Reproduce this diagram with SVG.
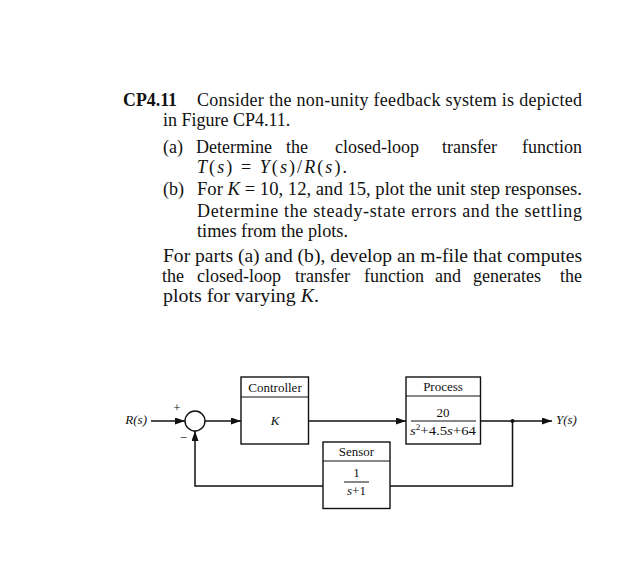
<svg xmlns="http://www.w3.org/2000/svg" width="638" height="561" viewBox="0 0 638 561">
<style>
.t{font-family:"Liberation Serif","Times New Roman",serif;font-size:18px;fill:#111}
.b{font-weight:bold}
.i{font-style:italic}
.d{font-family:"Liberation Serif","Times New Roman",serif;font-size:13px;fill:#111}
.box{fill:#fff;stroke:#111;stroke-width:1.4}
.ln{fill:none;stroke:#111;stroke-width:1.5}
.fr{stroke:#111;stroke-width:1}
</style>
<defs>
<marker id="ah" markerUnits="userSpaceOnUse" markerWidth="10" markerHeight="7" refX="10" refY="3.5" orient="auto">
<path d="M0,0 L10,3.5 L0,7 z" fill="#111"/>
</marker>
</defs>
<rect width="638" height="561" fill="#fff"/>
<g id="problem-text">
<text class="t b" x="123" y="106" textLength="54" lengthAdjust="spacingAndGlyphs">CP4.11</text>
<text class="t" x="197" y="106" textLength="385" lengthAdjust="spacing">Consider the non-unity feedback system is depicted</text>
<text class="t" x="163" y="126">in Figure CP4.11.</text>
<text class="t" x="163" y="153">(a)</text>
<text class="t" x="196" y="153">Determine</text>
<text class="t" x="286" y="153">the</text>
<text class="t" x="335" y="153">closed-loop</text>
<text class="t" x="442" y="153">transfer</text>
<text class="t" x="582" y="153" text-anchor="end">function</text>
<text class="t" x="197" y="173" textLength="150" lengthAdjust="spacing"><tspan class="i">T</tspan>(<tspan class="i">s</tspan>) = <tspan class="i">Y</tspan>(<tspan class="i">s</tspan>)/<tspan class="i">R</tspan>(<tspan class="i">s</tspan>).</text>
<text class="t" x="163" y="195">(b)</text>
<text class="t" x="197" y="195" textLength="385" lengthAdjust="spacingAndGlyphs">For <tspan class="i">K</tspan> = 10, 12, and 15, plot the unit step responses.</text>
<text class="t" x="197" y="217" textLength="385" lengthAdjust="spacing">Determine the steady-state errors and the settling</text>
<text class="t" x="197" y="237" textLength="151" lengthAdjust="spacingAndGlyphs">times from the plots.</text>
<text class="t" x="163" y="262" textLength="419" lengthAdjust="spacingAndGlyphs">For parts (a) and (b), develop an m-file that computes</text>
<text class="t" x="162" y="282">the</text>
<text class="t" x="197" y="282">closed-loop</text>
<text class="t" x="295" y="282">transfer</text>
<text class="t" x="364" y="282">function</text>
<text class="t" x="435" y="282">and</text>
<text class="t" x="473" y="282">generates</text>
<text class="t" x="582" y="282" text-anchor="end">the</text>
<text class="t" x="163" y="302" textLength="156" lengthAdjust="spacingAndGlyphs">plots for varying <tspan class="i">K</tspan>.</text>
</g>
<g id="connectors">
<path class="ln" d="M151,421 H185" marker-end="url(#ah)"/>
<path class="ln" d="M205,421 H241" marker-end="url(#ah)"/>
<path class="ln" d="M308.5,421 H406" marker-end="url(#ah)"/>
<path class="ln" d="M480.5,421 H552" marker-end="url(#ah)"/>
<path class="ln" d="M512.5,421 V486 H390"/>
<path class="ln" d="M323,486 H195 V431" marker-end="url(#ah)"/>
<circle cx="512.5" cy="421" r="2" fill="#111"/>
</g>
<g id="input">
<text class="d i" x="147" y="424" text-anchor="end" font-size="12">R(s)</text>
</g>
<g id="sum">
<circle cx="195" cy="421" r="10" fill="#fff" stroke="#111" stroke-width="1.4"/>
<text class="d" x="177" y="412" text-anchor="middle" font-size="12">+</text>
<text class="d" x="183.5" y="442" text-anchor="middle" font-size="14">−</text>
</g>
<g id="controller">
<rect class="box" x="241" y="377" width="67.5" height="67"/>
<line class="fr" x1="241" y1="397" x2="308.5" y2="397" stroke-width="1.4"/>
<text class="d" x="275" y="392" text-anchor="middle">Controller</text>
<text class="d i" x="275" y="425" text-anchor="middle">K</text>
</g>
<g id="process">
<rect class="box" x="406" y="377" width="74.5" height="67"/>
<line class="fr" x1="406" y1="396" x2="480.5" y2="396" stroke-width="1.4"/>
<text class="d" x="443" y="391" text-anchor="middle">Process</text>
<text class="d" x="443" y="417" text-anchor="middle">20</text>
<line class="fr" x1="411" y1="421" x2="476" y2="421"/>
<text class="d" x="443" y="435" text-anchor="middle" textLength="66" lengthAdjust="spacingAndGlyphs"><tspan class="i">s</tspan><tspan dy="-5" font-size="8">2</tspan><tspan dy="5">+4.5</tspan><tspan class="i">s</tspan>+64</text>
</g>
<g id="sensor">
<rect class="box" x="323" y="442" width="67" height="66.5"/>
<line class="fr" x1="323" y1="461" x2="390" y2="461" stroke-width="1.4"/>
<text class="d" x="356.5" y="456" text-anchor="middle">Sensor</text>
<text class="d" x="356.5" y="477" text-anchor="middle">1</text>
<line class="fr" x1="344" y1="482" x2="369" y2="482"/>
<text class="d" x="356.5" y="495" text-anchor="middle"><tspan class="i">s</tspan>+1</text>
</g>
<g id="output">
<text class="d i" x="556" y="424" font-size="12">Y(s)</text>
</g>
</svg>
